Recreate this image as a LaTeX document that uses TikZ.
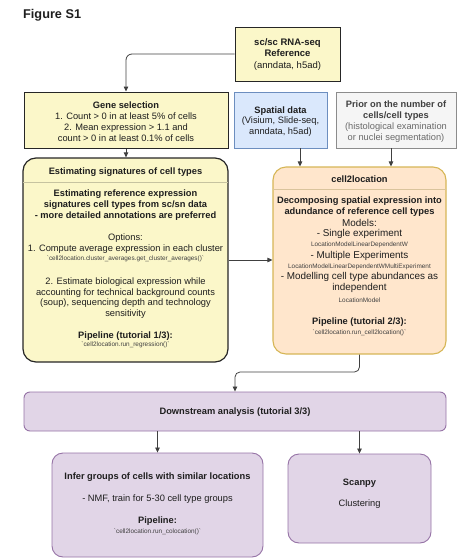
\documentclass[tikz,border=0pt]{standalone}
\usepackage{fontspec}
\setmainfont{Liberation Sans}
\usetikzlibrary{arrows.meta}
\definecolor{yfill}{HTML}{FBF7C9}
\definecolor{ydraw}{HTML}{262626}
\definecolor{bfill}{HTML}{DAE8FC}
\definecolor{bdraw}{HTML}{6C8EBF}
\definecolor{gfill}{HTML}{F5F5F5}
\definecolor{gdraw}{HTML}{8C8C8C}
\definecolor{ofill}{HTML}{FFE6CC}
\definecolor{odraw}{HTML}{D6B656}
\definecolor{pfill}{HTML}{E1D5E7}
\definecolor{pdraw}{HTML}{9673A6}
\definecolor{textc}{HTML}{1E1E1E}
\definecolor{grayt}{HTML}{6A6A6A}
\definecolor{connc}{HTML}{404040}
\newcommand\myfs[2]{\fontsize{#1}{#2}\selectfont}
\begin{document}
\begin{tikzpicture}[x=1pt,y=-1pt,
  txt/.style={align=center, inner sep=0pt, text=textc},
  bod/.style={txt, font=\myfs{9.3}{11}},
  bbod/.style={txt, font=\myfs{9.3}{11}\bfseries},
  mbod/.style={txt, font=\myfs{9.9}{11}},
  code/.style={txt, font=\myfs{6.4}{8}, text=textc!85},
  boxy/.style={draw=ydraw, fill=yfill, line width=1pt, inner sep=0pt},
  boxb/.style={draw=bdraw, fill=bfill, line width=0.9pt, inner sep=0pt},
  boxg/.style={draw=gdraw, fill=gfill, line width=0.9pt, inner sep=0pt},
  boxo/.style={draw=odraw, fill=ofill, line width=1.1pt, inner sep=0pt, rounded corners=13pt},
  boxp/.style={draw=pdraw, fill=pfill, line width=0.9pt, inner sep=0pt},
  conn/.style={draw=connc, line width=0.8pt, -{Triangle[length=5pt,width=4.5pt]}},
  sepl/.style={line width=0.8pt}
]
\useasboundingbox (0,0) rectangle (474,560);

\node[txt, anchor=west, font=\myfs{12.7}{14}\bfseries] (title) at (23,15) {Figure S1};

% boxes
\node[boxy, minimum width=105pt, minimum height=54pt] (ref) at (287.5,54) {};
\node[boxy, minimum width=204pt, minimum height=56pt] (gene) at (126,120) {};
\node[boxb, minimum width=93pt, minimum height=56pt] (spatial) at (280.5,120) {};
\node[boxg, minimum width=120pt, minimum height=56pt] (prior) at (396,120) {};
\node[boxy, rounded corners=13pt, line width=1.2pt, minimum width=205pt, minimum height=204pt] (est) at (125.5,260) {};
\node[boxo, minimum width=173pt, minimum height=187pt] (c2l) at (359.5,260.5) {};
\node[boxp, rounded corners=6pt, minimum width=422pt, minimum height=39pt] (down) at (235,411.5) {};
\node[boxp, rounded corners=11pt, minimum width=211pt, minimum height=104pt] (infer) at (157.5,505) {};
\node[boxp, rounded corners=11pt, minimum width=143pt, minimum height=89pt] (scanpy) at (359.5,498.5) {};

% separators
\coordinate (sepa) at (0,182);
\coordinate (sepb) at (0,189);
\draw[sepl, draw=ydraw!25!yfill] ([xshift=0.6pt]est.west |- sepa) -- ([xshift=-0.6pt]est.east |- sepa);
\draw[sepl, draw=odraw!35!ofill!80!gray] ([xshift=0.6pt]c2l.west |- sepb) -- ([xshift=-0.6pt]c2l.east |- sepb);

% texts
\node[txt, font=\myfs{9.5}{11.5}\bfseries] (reft) at (287.5,54.5) {sc/sc RNA-seq\\Reference\\{\mdseries (anndata, h5ad)}};
\node[bod] (genet) at (126,121.5) {{\bfseries Gene selection}\\1. Count > 0 in at least 5\% of cells\\2. Mean expression > 1.1 and\\count > 0 in at least 0.1\% of cells};
\node[txt, font=\myfs{9.3}{10.5}] (spatialt) at (280.5,121.5) {{\bfseries Spatial data}\\(Visium, Slide-seq,\\anndata, h5ad)};
\node[bod, text=grayt] (priort) at (396,121.5) {{\bfseries\color{textc!85} Prior on the number of}\\{\bfseries\color{textc!85} cells/cell types}\\(histological examination\\or nuclei segmentation)};

\node[bbod] (esth) at (125.5,172) {Estimating signatures of cell types};
\node[bbod] (esta) at (125.5,205) {Estimating reference expression\\signatures cell types from sc/sn data\\- more detailed annotations are preferred};
\node[bod] (opt) at (125.5,238) {Options:};
\node[bod] (opt1) at (125.5,249) {1. Compute average expression in each cluster};
\node[code] (opt1c) at (125.5,259) {\textasciigrave cell2location.cluster\_averages.get\_cluster\_averages()\textasciigrave};
\node[txt, font=\myfs{9.3}{10.7}] (opt2) at (125.5,298) {2. Estimate biological expression while\\accounting for technical background counts\\(soup), sequencing depth and technology\\sensitivity};
\node[bbod] (estp) at (125.5,336) {Pipeline (tutorial 1/3):};
\node[code] (estc) at (125.5,345) {\textasciigrave cell2location.run\_regression()\textasciigrave};

\node[bbod] (c2lh) at (359.5,179) {cell2location};
\node[bbod] (c2la) at (359.5,206.5) {Decomposing spatial expression into\\adundance of reference cell types};
\node[mbod] (c2lm) at (359.5,223) {Models:};
\node[mbod] (c2l1) at (359.5,234) {- Single experiment};
\node[code] (c2l1c) at (359.5,245) {LocationModelLinearDependentW};
\node[mbod] (c2l2) at (359.5,255.5) {- Multiple Experiments};
\node[code] (c2l2c) at (359.5,267) {LocationModelLinearDependentWMultiExperiment};
\node[mbod] (c2l3) at (359.5,282.5) {- Modelling cell type abundances as\\independent};
\node[code] (c2l3c) at (359.5,300) {LocationModel};
\node[bbod] (c2lp) at (359.5,322) {Pipeline (tutorial 2/3):};
\node[code] (c2lc) at (359.5,333) {\textasciigrave cell2location.run\_cell2location()\textasciigrave};

\node[bbod] (downt) at (235,412) {Downstream analysis (tutorial 3/3)};

\node[bbod] (infh) at (157.5,477) {Infer groups of cells with similar locations};
\node[bod] (inf1) at (157.5,499) {- NMF, train for 5-30 cell type groups};
\node[bbod] (infp) at (157.5,521) {Pipeline:};
\node[code] (infc) at (157.5,532) {\textasciigrave cell2location.run\_colocation()\textasciigrave};

\node[bbod] (scanh) at (359.5,483) {Scanpy};
\node[bod] (scan1) at (359.5,504) {Clustering};

% connectors
\coordinate (sx) at (300,0);
\coordinate (px) at (391,0);
\coordinate (midc) at (300,372);
\draw[conn, rounded corners=6pt] (ref.west) -| (gene.north);
\draw[conn] (gene.south) -- (est.north -| gene.south);
\draw[conn] (spatial.south -| sx) -- (c2l.north -| sx);
\draw[conn] (prior.south -| px) -- (c2l.north -| px);
\draw[conn] (est.east) -- (est.east -| c2l.west);
\draw[conn, rounded corners=5pt] (c2l.south) |- (midc) -| (down.north);
\draw[conn] (down.south -| infer.north) -- (infer.north);
\draw[conn] (down.south -| scanpy.north) -- (scanpy.north);
\end{tikzpicture}
\end{document}
